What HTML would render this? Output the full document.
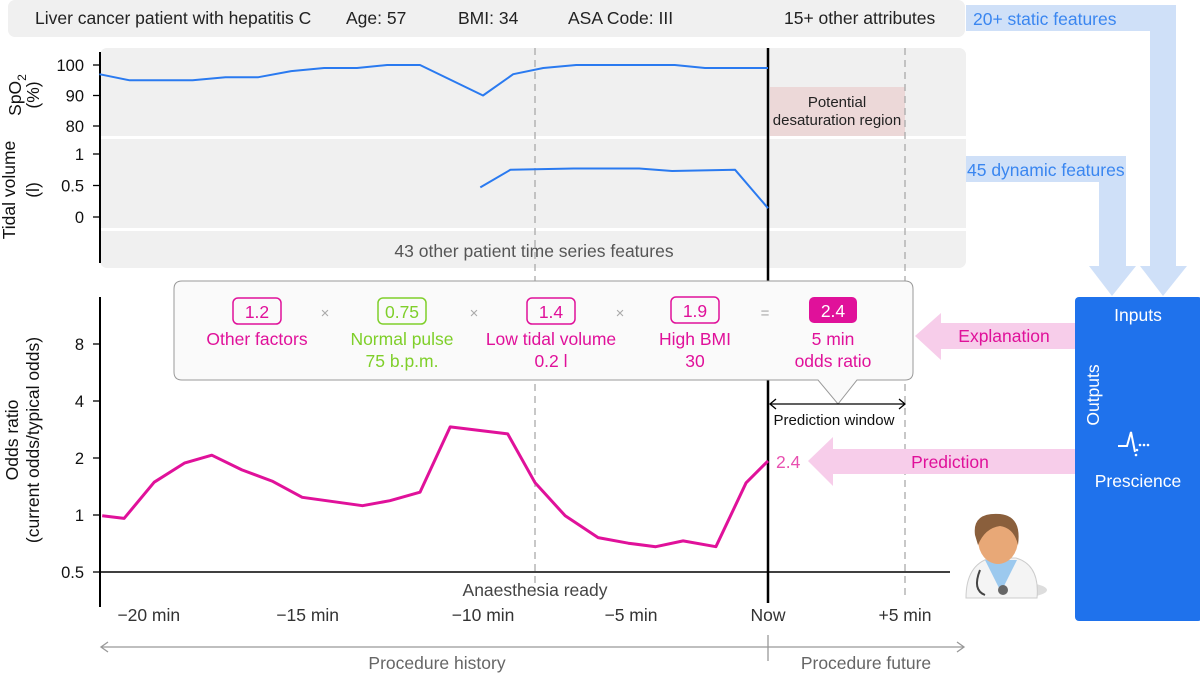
<!DOCTYPE html>
<html><head><meta charset="utf-8"><style>
html,body{margin:0;padding:0;background:#fff;}
svg{display:block;font-family:"Liberation Sans",sans-serif;}
</style></head><body>
<svg id="fig" width="1200" height="673" viewBox="0 0 1200 673" xmlns="http://www.w3.org/2000/svg">
<g>
<rect x="8" y="0" width="957" height="37" rx="7" fill="#f0f0f0"/>
<text x="35" y="24" font-size="17.5" fill="#222">Liver cancer patient with hepatitis C</text>
<text x="346" y="24" font-size="17.5" fill="#222">Age: 57</text>
<text x="458" y="24" font-size="17.5" fill="#222">BMI: 34</text>
<text x="568" y="24" font-size="17.5" fill="#222">ASA Code: III</text>
<text x="784" y="24" font-size="17.5" fill="#222">15+ other attributes</text>
</g>
<g>
<rect x="100" y="48" width="866" height="220" rx="7" fill="#f0f0f0"/>
<rect x="100" y="136" width="866" height="3" fill="#fff"/>
<rect x="100" y="228" width="866" height="3" fill="#fff"/>
<rect x="770" y="87" width="135" height="49" fill="#ecd8d8"/>
<text x="837" y="107" font-size="15" text-anchor="middle" fill="#222">Potential</text>
<text x="837" y="125" font-size="15" text-anchor="middle" fill="#222">desaturation region</text>
<text x="534" y="257" font-size="17.5" text-anchor="middle" fill="#555">43 other patient time series features</text>
</g>
<g fill="#cfe0f8">
<rect x="966" y="5" width="210" height="26"/>
<rect x="1150" y="5" width="26" height="262"/>
<polygon points="1140,266 1187,266 1163,296"/>
<text x="973" y="25" font-size="17.5" fill="#3a86f0">20+ static features</text>
</g>
<g fill="#cfe0f8">
<rect x="966" y="156" width="160" height="26"/>
<rect x="1099" y="156" width="27" height="111"/>
<polygon points="1089,266 1136,266 1112,296"/>
<text x="967" y="176" font-size="17.5" fill="#3a86f0">45 dynamic features</text>
</g>
<line x1="535" y1="48" x2="535" y2="598" stroke="#aaa" stroke-width="1.3" stroke-dasharray="7,5"/>
<line x1="905" y1="48" x2="905" y2="600" stroke="#aaa" stroke-width="1.3" stroke-dasharray="7,5"/>
<line x1="768" y1="48" x2="768" y2="603" stroke="#000" stroke-width="2.5"/>
<g id="charts"></g>
<g>
<path d="M182,281 H905 Q913,281 913,289 V372 Q913,380 905,380 H857 L838,404 L818,380 H182 Q174,380 174,372 V289 Q174,281 182,281 Z" fill="#fafafa" stroke="#999" stroke-width="1"/>
<rect x="233" y="298" width="48" height="26" rx="5" fill="none" stroke="#e0119a" stroke-width="1.5"/>
<text x="257" y="318" font-size="17.5" text-anchor="middle" fill="#e0119a">1.2</text>
<text x="257" y="345" font-size="17.5" text-anchor="middle" fill="#e0119a">Other factors</text>
<text x="325" y="318" font-size="15" text-anchor="middle" fill="#aaa">×</text>
<rect x="378" y="298" width="48" height="26" rx="5" fill="none" stroke="#7fcf2a" stroke-width="1.5"/>
<text x="402" y="318" font-size="17.5" text-anchor="middle" fill="#7fcf2a">0.75</text>
<text x="402" y="345" font-size="17.5" text-anchor="middle" fill="#7fcf2a">Normal pulse</text>
<text x="402" y="367" font-size="17.5" text-anchor="middle" fill="#7fcf2a">75 b.p.m.</text>
<text x="474" y="318" font-size="15" text-anchor="middle" fill="#aaa">×</text>
<rect x="527" y="298" width="48" height="26" rx="5" fill="none" stroke="#e0119a" stroke-width="1.5"/>
<text x="551" y="318" font-size="17.5" text-anchor="middle" fill="#e0119a">1.4</text>
<text x="551" y="345" font-size="17.5" text-anchor="middle" fill="#e0119a">Low tidal volume</text>
<text x="551" y="367" font-size="17.5" text-anchor="middle" fill="#e0119a">0.2 l</text>
<text x="620" y="318" font-size="15" text-anchor="middle" fill="#aaa">×</text>
<rect x="671" y="297" width="48" height="26" rx="5" fill="none" stroke="#e0119a" stroke-width="1.5"/>
<text x="695" y="317" font-size="17.5" text-anchor="middle" fill="#e0119a">1.9</text>
<text x="695" y="345" font-size="17.5" text-anchor="middle" fill="#e0119a">High BMI</text>
<text x="695" y="367" font-size="17.5" text-anchor="middle" fill="#e0119a">30</text>
<text x="765" y="318" font-size="15" text-anchor="middle" fill="#aaa">=</text>
<rect x="809" y="297" width="48" height="26" rx="5" fill="#e0119a"/>
<text x="833" y="317" font-size="17.5" text-anchor="middle" fill="#fff">2.4</text>
<text x="833" y="345" font-size="17.5" text-anchor="middle" fill="#e0119a">5 min</text>
<text x="833" y="367" font-size="17.5" text-anchor="middle" fill="#e0119a">odds ratio</text>
</g>
<g>
<line x1="770" y1="404" x2="905" y2="404" stroke="#000" stroke-width="1.3"/>
<polyline points="776,399 770,404 776,409" fill="none" stroke="#000" stroke-width="1.3"/>
<polyline points="899,399 905,404 899,409" fill="none" stroke="#000" stroke-width="1.3"/>
<text x="834" y="425" font-size="15" text-anchor="middle" fill="#111">Prediction window</text>
</g>
<g>
<rect x="940" y="323" width="136" height="26" fill="#f7cdea"/>
<polygon points="915,336 941,313 941,360" fill="#f7cdea"/>
<text x="1004" y="342" font-size="17.5" text-anchor="middle" fill="#e0119a">Explanation</text>
</g>
<g>
<rect x="832" y="449" width="244" height="25" fill="#f7cdea"/>
<polygon points="808,461 833,437 833,486" fill="#f7cdea"/>
<text x="950" y="468" font-size="17.5" text-anchor="middle" fill="#e0119a">Prediction</text>
<text x="776" y="468" font-size="17.5" fill="#e850b0">2.4</text>
</g>
<g>
<rect x="1075" y="297" width="127" height="324" rx="4" fill="#1f72ec"/>
<text x="1138" y="321" font-size="17.5" text-anchor="middle" fill="#fff">Inputs</text>
<text transform="translate(1099,395) rotate(-90)" font-size="17.5" text-anchor="middle" fill="#fff">Outputs</text>
<polyline points="1118,446 1127,446 1131,432 1135,452" fill="none" stroke="#fff" stroke-width="2"/>
<g fill="#fff"><circle cx="1140" cy="445" r="1.3"/><circle cx="1144" cy="445" r="1.3"/><circle cx="1148" cy="445" r="1.3"/><circle cx="1137" cy="450" r="1.3"/><circle cx="1136" cy="455" r="1.3"/></g>
<text x="1138" y="487" font-size="17.5" text-anchor="middle" fill="#fff">Prescience</text>
</g>
<g>
<ellipse cx="1015" cy="590" rx="32" ry="8" fill="#ddd"/>
<path d="M966,598 Q966,565 990,558 L1016,558 Q1040,565 1037,598 Z" fill="#f4f4f4" stroke="#ccc"/>
<path d="M985,560 L1001,592 L1017,560 Z" fill="#9cc9ee"/>
<ellipse cx="998" cy="540" rx="20" ry="24" fill="#e8a877"/>
<path d="M975,535 Q972,512 1000,514 Q1022,516 1018,545 Q1014,528 1000,526 Q985,528 978,545 Z" fill="#8a5f3c"/>
<circle cx="1003" cy="590" r="5" fill="#666"/>
<path d="M980,570 Q972,590 985,595" fill="none" stroke="#444" stroke-width="2"/>
</g>
<g stroke="#999" stroke-width="1.3" fill="none">
<line x1="101" y1="647" x2="964" y2="647"/>
<polyline points="108,642 101,647 108,652"/>
<polyline points="957,642 964,647 957,652"/>
<line x1="768" y1="635" x2="768" y2="661"/>
</g>
<text x="437" y="669" font-size="17.5" text-anchor="middle" fill="#666">Procedure history</text>
<text x="866" y="669" font-size="17.5" text-anchor="middle" fill="#666">Procedure future</text>
<text x="535" y="596" font-size="17.5" text-anchor="middle" fill="#444">Anaesthesia ready</text>
</svg>
<script>
var spoTimes = [-24.4,-23.3,-21.0,-19.8,-18.6,-17.4,-16.2,-15.0,-13.9,-12.7,-10.4,-9.3,-8.2,-7.0,-6.1,-3.4,-2.3,0];
var spoValues = [97,95,95,96,96,98,99,99,100,100,90,97,99,100,100,100,99,99];
var tidalTimes = [-10.5,-9.4,-7.1,-6.1,-4.7,-3.5,-1.2,0];
var tidalValues = [0.47,0.75,0.77,0.77,0.77,0.73,0.75,0.14];
var oddsTimes = [-24.3,-23.5,-22.4,-21.3,-20.3,-19.2,-18.1,-17.0,-14.8,-13.8,-12.7,-11.6,-9.5,-8.5,-7.4,-6.2,-5.1,-4.1,-3.1,-1.9,-0.8,0];
var oddsValues = [0.99,0.96,1.49,1.88,2.07,1.73,1.51,1.24,1.12,1.19,1.32,2.92,2.68,1.48,0.99,0.76,0.71,0.68,0.73,0.68,1.48,1.93];
var spoTicks = [100,90,80];
var tidalTicks = [1,0.5,0];
var oddsTicks = [8,4,2,1,0.5];
var timeTickLabels = ["\u221220 min","\u221215 min","\u221210 min","\u22125 min","Now","+5 min"];
var timeTickMinutes = [-22.6,-16.8,-10.4,-5,0,5];

var NS = "http://www.w3.org/2000/svg";
var g = document.getElementById("charts");
function xT(t){ return 768 + t*27.4; }
function ySpo(v){ return 65 + (100 - v)*3.05; }
function yTid(v){ return 217 - v*63; }
function yOdds(v){ return 515 - Math.log2(v)*57; }
function mk(tag, attrs){ var e=document.createElementNS(NS,tag); for(var k in attrs) e.setAttribute(k,attrs[k]); g.appendChild(e); return e; }
function txt(x,y,s,anchor,size,fill){ var e=mk("text",{x:x,y:y,"text-anchor":anchor,"font-size":size,fill:fill}); e.textContent=s; return e; }

var a1 = mk("line",{x1:100,y1:52,x2:100,y2:263,stroke:"#000","stroke-width":2});


var a2 = mk("line",{x1:100,y1:297,x2:100,y2:607,stroke:"#000","stroke-width":2});


var a3 = mk("line",{x1:100,y1:572,x2:950,y2:572,stroke:"#000","stroke-width":1.5});



spoTicks.forEach(function(v){
  var y=ySpo(v);
  mk("line",{x1:93,y1:y,x2:100,y2:y,stroke:"#000","stroke-width":1.3});
  var t=txt(84,y+6,String(v),"end",16.5,"#111");
  
  
});
tidalTicks.forEach(function(v){
  var y=yTid(v);
  mk("line",{x1:93,y1:y,x2:100,y2:y,stroke:"#000","stroke-width":1.3});
  var t=txt(84,y+6,String(v),"end",16.5,"#111");
  
  
});
oddsTicks.forEach(function(v){
  var y=yOdds(v);
  mk("line",{x1:93,y1:y,x2:100,y2:y,stroke:"#000","stroke-width":1.3});
  var t=txt(84,y+6,String(v),"end",16.5,"#111");
  
  
});
timeTickLabels.forEach(function(s,i){
  var t=txt(xT(timeTickMinutes[i]),621,s,"middle",17.5,"#333");
  
  
});

function rot(x,y,s,size){ var t=mk("text",{transform:"translate("+x+","+y+") rotate(-90)","text-anchor":"middle","font-size":size,fill:"#111"}); t.textContent=s; return t; }
var st = mk("text",{transform:"translate(21,95) rotate(-90)","text-anchor":"middle","font-size":17.5,fill:"#111"});
st.innerHTML = 'SpO<tspan font-size="12" dy="5">2</tspan>';


var st2 = rot(39,95,"(%)",17.5);


var tt = rot(15,190,"Tidal volume",17.5);


var tt2 = rot(39,190,"(l)",17.5);


var ot = rot(18,440,"Odds ratio",17.5);


var ot2 = rot(39,440,"(current odds/typical odds)",17.5);



function pts(ts,vs,yf){ return ts.map(function(t,i){ return xT(t).toFixed(1)+","+yf(vs[i]).toFixed(1); }).join(" "); }
var s1 = mk("polyline",{points:pts(spoTimes,spoValues,ySpo),fill:"none",stroke:"#2a7af0","stroke-width":2,"stroke-linejoin":"round"});


var s2 = mk("polyline",{points:pts(tidalTimes,tidalValues,yTid),fill:"none",stroke:"#2a7af0","stroke-width":2,"stroke-linejoin":"round"});


var s3 = mk("polyline",{points:pts(oddsTimes,oddsValues,yOdds),fill:"none",stroke:"#e0119a","stroke-width":3,"stroke-linejoin":"round"});


</script>
</body></html>
